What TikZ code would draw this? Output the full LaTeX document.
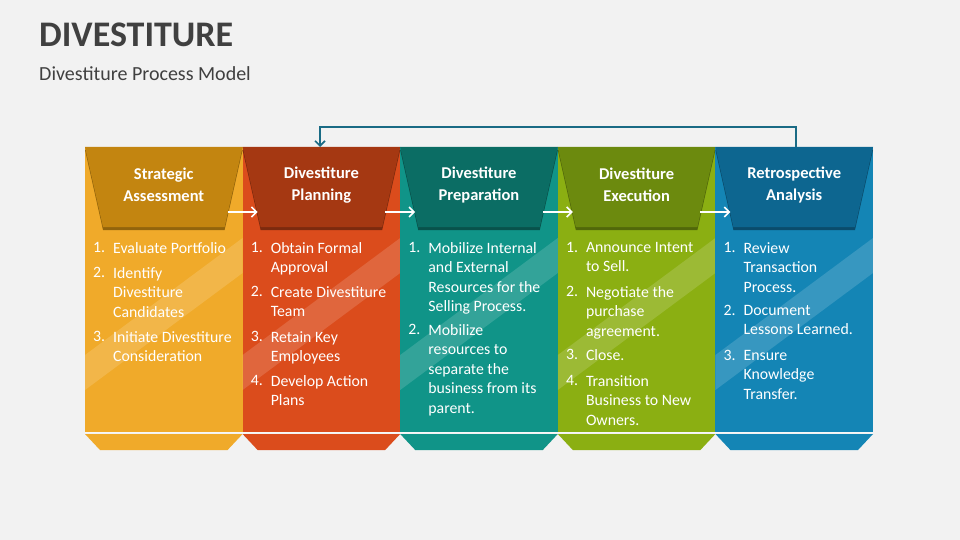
\documentclass[tikz,border=0pt]{standalone}
\usepackage{fontspec}
\setmainfont{Carlito}
\begin{document}
\begin{tikzpicture}[x=1pt,y=-1pt,
  itm/.style={anchor=north west,inner sep=0pt,text=white,font=\fontsize{15.8}{19.5}\selectfont,align=left},
  hdr/.style={text=white,font=\bfseries\fontsize{16.5}{21.5}\selectfont,align=center},
  flow/.style={white,line width=1.6pt,-{Straight Barb[length=5pt,width=10pt]}}]
\usetikzlibrary{arrows.meta}
\fill[fill={rgb,255:red,242;green,242;blue,242}] (0,0) rectangle (960,540);
\node[anchor=west,inner sep=0pt,font=\bfseries\fontsize{36}{40}\selectfont,text={rgb,255:red,64;green,64;blue,64}] (title) at (39,35) {DIVESTITURE};
\node[anchor=west,inner sep=0pt,font=\fontsize{20}{24}\selectfont,text={rgb,255:red,64;green,64;blue,64}] (sub) at (39,74) {Divestiture Process Model};
\definecolor{b1}{RGB}{240,170,42}\definecolor{h1}{RGB}{195,133,16}
\definecolor{b2}{RGB}{219,76,28}\definecolor{h2}{RGB}{165,56,18}
\definecolor{b3}{RGB}{16,148,136}\definecolor{h3}{RGB}{11,109,100}
\definecolor{b4}{RGB}{139,175,18}\definecolor{h4}{RGB}{108,138,14}
\definecolor{b5}{RGB}{20,133,181}\definecolor{h5}{RGB}{13,102,144}
\foreach \i/\t in {1/{Strategic\\Assessment},2/{Divestiture\\Planning},3/{Divestiture\\Preparation},4/{Divestiture\\Execution},5/{Retrospective\\Analysis}}{
  \pgfmathsetmacro{\xa}{85+157.6*(\i-1)}
  \pgfmathsetmacro{\xb}{\xa+157.6}
  \fill[b\i] (\xa,147) rectangle (\xb,432);
  \begin{scope}
    \clip (\xa,147) rectangle (\xb,432);
    \fill[white,opacity=0.15] (\xa,355) -- (\xa,390) -- (\xb,273) -- (\xb,238) -- cycle;
  \end{scope}
  \fill[b\i] (\xa,434) -- (\xb,434) -- (\xb-15,450) -- (\xa+15,450) -- cycle;
  \draw[white,opacity=0.4,line width=1.2pt] (\xa,432.5) -- (\xb,432.5);
  \fill[h\i!75!black] (\xa,150) -- (\xb,150) -- (\xb-18,230) -- (\xa+18,230) -- cycle;
  \fill[h\i] (\xa,147) -- (\xb,147) -- (\xb-18,227) -- (\xa+18,227) -- cycle;
  \node[hdr] (h\i) at ({(\xa+\xb)/2},185) {\t};
}
\foreach \i in {1,...,4}{
  \pgfmathsetmacro{\xa}{85+157.6*\i}
  \coordinate (s\i) at (\xa-15,212);
  \coordinate (e\i) at (\xa+15,212);
  \draw[flow] (s\i) -- (e\i);
}
\coordinate (fa) at (796,147);
\coordinate (fb) at (320,147);
\draw[line width=1.6pt,draw={rgb,255:red,26;green,107;blue,133},-{Straight Barb[length=5pt,width=10pt]}] (fa) -- (796,127) -- (320,127) -- (fb);
% lists
\newcommand{\li}[4]{\node[itm] at ({85+157.6*(#1-1)+8},#2) {#3.};\node[itm] at ({85+157.6*(#1-1)+28},#2) {#4};}
\li{1}{242}{1}{Evaluate Portfolio}
\li{1}{267}{2}{Identify\\Divestiture\\Candidates}
\li{1}{331}{3}{Initiate Divestiture\\Consideration}
\li{2}{242}{1}{Obtain Formal\\Approval}
\li{2}{286}{2}{Create Divestiture\\Team}
\li{2}{331}{3}{Retain Key\\Employees}
\li{2}{375}{4}{Develop Action\\Plans}
\li{3}{242}{1}{Mobilize Internal\\and External\\Resources for the\\Selling Process.}
\li{3}{324}{2}{Mobilize\\resources to\\separate the\\business from its\\parent.}
\li{4}{242}{1}{Announce Intent\\to Sell.}
\li{4}{286}{2}{Negotiate the\\purchase\\agreement.}
\li{4}{349}{3}{Close.}
\li{4}{375}{4}{Transition\\Business to New\\Owners.}
\li{5}{242}{1}{Review\\Transaction\\Process.}
\li{5}{305}{2}{Document\\Lessons Learned.}
\li{5}{350}{3}{Ensure\\Knowledge\\Transfer.}
\end{tikzpicture}
\end{document}
